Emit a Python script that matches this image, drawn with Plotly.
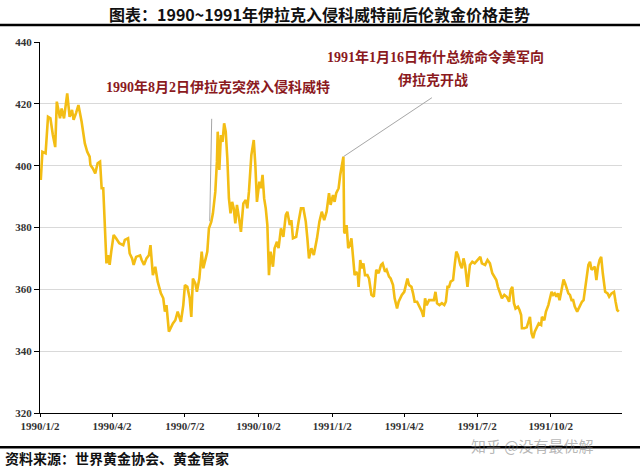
import plotly.graph_objects as go

# ---- data: London gold price (USD/oz), 1990-1991 ----
dates = [
    "1990-01-02", "1990-01-03", "1990-01-05", "1990-01-09", "1990-01-12", "1990-01-15", "1990-01-18",
    "1990-01-21", "1990-01-23", "1990-01-27", "1990-01-29", "1990-02-01", "1990-02-05", "1990-02-08",
    "1990-02-11", "1990-02-13", "1990-02-16", "1990-02-19", "1990-02-23", "1990-02-27", "1990-03-02",
    "1990-03-05", "1990-03-06", "1990-03-09", "1990-03-12", "1990-03-15", "1990-03-18", "1990-03-20",
    "1990-03-22", "1990-03-24", "1990-03-26", "1990-03-28", "1990-03-30", "1990-04-01", "1990-04-04",
    "1990-04-07", "1990-04-11", "1990-04-16", "1990-04-18", "1990-04-22", "1990-04-24", "1990-04-27",
    "1990-04-29", "1990-05-02", "1990-05-07", "1990-05-09", "1990-05-12", "1990-05-15", "1990-05-18",
    "1990-05-20", "1990-05-23", "1990-05-26", "1990-05-29", "1990-06-02", "1990-06-05", "1990-06-07",
    "1990-06-09", "1990-06-12", "1990-06-14", "1990-06-17", "1990-06-20", "1990-06-23", "1990-06-27",
    "1990-06-30", "1990-07-02", "1990-07-05", "1990-07-08", "1990-07-10", "1990-07-12", "1990-07-15",
    "1990-07-17", "1990-07-20", "1990-07-23", "1990-07-25", "1990-07-28", "1990-07-30", "1990-08-01",
    "1990-08-04", "1990-08-06", "1990-08-09", "1990-08-11", "1990-08-12", "1990-08-14", "1990-08-16",
    "1990-08-18", "1990-08-20", "1990-08-22", "1990-08-24", "1990-08-26", "1990-08-28", "1990-08-30",
    "1990-09-01", "1990-09-03", "1990-09-05", "1990-09-07", "1990-09-10", "1990-09-13", "1990-09-16",
    "1990-09-18", "1990-09-20", "1990-09-23", "1990-09-26", "1990-09-28", "1990-09-30", "1990-10-03",
    "1990-10-05", "1990-10-07", "1990-10-09", "1990-10-11", "1990-10-13", "1990-10-15", "1990-10-17",
    "1990-10-20", "1990-10-22", "1990-10-25", "1990-10-27", "1990-10-30", "1990-11-02", "1990-11-05",
    "1990-11-07", "1990-11-10", "1990-11-12", "1990-11-14", "1990-11-18", "1990-11-21", "1990-11-24",
    "1990-11-27", "1990-11-30", "1990-12-02", "1990-12-04", "1990-12-07", "1990-12-10", "1990-12-14",
    "1990-12-17", "1990-12-20", "1990-12-23", "1990-12-26", "1990-12-29", "1990-12-31", "1991-01-03",
    "1991-01-05", "1991-01-07", "1991-01-10", "1991-01-12", "1991-01-16", "1991-01-17", "1991-01-18",
    "1991-01-20", "1991-01-22", "1991-01-24", "1991-01-26", "1991-01-28", "1991-01-30", "1991-02-01",
    "1991-02-03", "1991-02-04", "1991-02-06", "1991-02-08", "1991-02-10", "1991-02-12", "1991-02-15",
    "1991-02-17", "1991-02-20", "1991-02-23", "1991-02-26", "1991-03-01", "1991-03-04", "1991-03-06",
    "1991-03-09", "1991-03-11", "1991-03-14", "1991-03-16", "1991-03-19", "1991-03-21", "1991-03-24",
    "1991-03-26", "1991-03-30", "1991-04-02", "1991-04-04", "1991-04-06", "1991-04-08", "1991-04-11",
    "1991-04-13", "1991-04-15", "1991-04-18", "1991-04-21", "1991-04-24", "1991-04-26", "1991-04-28",
    "1991-04-30", "1991-05-03", "1991-05-06", "1991-05-09", "1991-05-11", "1991-05-13", "1991-05-16",
    "1991-05-19", "1991-05-22", "1991-05-24", "1991-05-26", "1991-05-28", "1991-05-30", "1991-06-02",
    "1991-06-04", "1991-06-06", "1991-06-08", "1991-06-11", "1991-06-13", "1991-06-15", "1991-06-17",
    "1991-06-20", "1991-06-23", "1991-06-26", "1991-06-29", "1991-07-03", "1991-07-06", "1991-07-08",
    "1991-07-12", "1991-07-15", "1991-07-18", "1991-07-21", "1991-07-23", "1991-07-26", "1991-07-28",
    "1991-07-31", "1991-08-02", "1991-08-05", "1991-08-08", "1991-08-11", "1991-08-13", "1991-08-15",
    "1991-08-17", "1991-08-19", "1991-08-22", "1991-08-24", "1991-08-26", "1991-08-27", "1991-08-30",
    "1991-09-02", "1991-09-04", "1991-09-06", "1991-09-08", "1991-09-10", "1991-09-12", "1991-09-14",
    "1991-09-17", "1991-09-20", "1991-09-21", "1991-09-24", "1991-09-26", "1991-09-29", "1991-10-01",
    "1991-10-03", "1991-10-05", "1991-10-07", "1991-10-09", "1991-10-11", "1991-10-13", "1991-10-16",
    "1991-10-18", "1991-10-20", "1991-10-22", "1991-10-24", "1991-10-26", "1991-10-28", "1991-10-30",
    "1991-11-01", "1991-11-04", "1991-11-07", "1991-11-10", "1991-11-12", "1991-11-14", "1991-11-16",
    "1991-11-18", "1991-11-20", "1991-11-22", "1991-11-24", "1991-11-26", "1991-11-28", "1991-11-30",
    "1991-12-02", "1991-12-04", "1991-12-06", "1991-12-09", "1991-12-12", "1991-12-14", "1991-12-17",
    "1991-12-20", "1991-12-22", "1991-12-24", "1991-12-26",
]

gold_price = [
    399, 395.4, 404.5, 404, 415.8, 415.3, 410,
    406, 420.7, 415.3, 418.5, 415.3, 423.4, 415.8,
    418, 414.8, 417, 419.6, 414.2, 407.2, 404.5,
    402.9, 400.2, 399.1, 397.5, 400.8, 401.3, 392.7,
    392.7, 378.6, 368.4, 371, 367.9, 372.2, 377.6,
    376.5, 374.9, 374.3, 376, 376.5, 371.6, 370,
    367.9, 370.5, 371, 369.5, 367.9, 370, 371,
    374.3, 364.6, 367.3, 362.5, 358.7, 357.1, 352.8,
    354.9, 346.3, 347.4, 349, 350, 352.8, 349.5,
    354.9, 361.4, 360.8, 357.1, 351.1, 363.5, 361.9,
    359.2, 363.5, 372.2, 366.8, 370, 372.2, 379.7,
    381.9, 384.6, 391.6, 401.3, 411, 398.6, 409.9,
    407.7, 413.7, 411, 402.4, 389.4, 384.6, 388.3,
    386.2, 381.3, 387.3, 384, 378.6, 387.8, 388.9,
    386.2, 391.6, 403.4, 408.3, 400.2, 388.3, 394.8,
    392.7, 397, 389.4, 386.2, 380.8, 364.6, 372.2,
    367.3, 373.3, 375.4, 373.3, 379.7, 377, 384,
    385.1, 380.8, 382.4, 376.5, 377, 381.9, 386.2,
    386.2, 381.9, 376.5, 370, 373.3, 371.1, 376.5,
    381.9, 385.1, 382.4, 385.1, 391.1, 387.3, 390.5,
    388.3, 391.1, 392.7, 397, 402.9, 378.6, 378.1,
    380.8, 373.3, 374.3, 376.5, 370, 364.6, 365.7,
    364.6, 360.8, 369.5, 366.8, 368.4, 364.6, 364.6,
    363.5, 358.2, 357.6, 366.3, 365.2, 367.9, 368.4,
    365.7, 366.3, 364.1, 363.5, 361.4, 357.1, 353.8,
    356, 358.2, 359.2, 361.4, 363.5, 361.4, 360.8,
    358.7, 356, 356, 354.4, 352.8, 351.1, 357.1,
    354.9, 356.5, 356.5, 356.5, 359.2, 355.5, 354.9,
    355.5, 354.9, 356, 360.8, 360.8, 362.5, 363,
    367.9, 372.2, 371.1, 367.9, 366.8, 370, 367.9,
    360.8, 367.9, 368.9, 368.4, 369.5, 370.5, 368.4,
    367.9, 369.5, 368.4, 365.2, 364.1, 363, 360.8,
    358.2, 357.1, 358.2, 357.6, 356, 359.8, 360.8,
    355.5, 353.8, 354.4, 353.3, 351.7, 347.4, 347.4,
    347.7, 349.5, 351.1, 345.8, 344.2, 346.3, 347.4,
    349, 348.5, 351.1, 350, 352.8, 354.9, 357.1,
    359.2, 358.2, 358.7, 357.6, 358.7, 356.5, 360.8,
    363.2, 361.9, 360.3, 358.7, 358.2, 356.5, 356.5,
    354.4, 352.8, 354.4, 356, 356.5, 359.8, 364.1,
    367.9, 368.9, 366.3, 366.8, 367.3, 363, 367.3,
    369.5, 370.5, 365.2, 359.2, 358.7, 357.6, 358.7,
    359.2, 356, 353.3, 352.8,
]

tick_dates = ["1990-01-02", "1990-04-02", "1990-07-02", "1990-10-02",
              "1991-01-02", "1991-04-02", "1991-07-02", "1991-10-02"]
tick_labels = ["1990/1/2", "1990/4/2", "1990/7/2", "1990/10/2",
               "1991/1/2", "1991/4/2", "1991/7/2", "1991/10/2"]
y_ticks = [320, 340, 360, 380, 400, 420, 440]

title_text = "图表：1990~1991年伊拉克入侵科威特前后伦敦金价格走势"
source_text = "资料来源：世界黄金协会、黄金管家"
event1_text = "1990年8月2日伊拉克突然入侵科威特"
event1_date, event1_value = "1990-08-02", 382
event2_line1 = "1991年1月16日布什总统命令美军向"
event2_line2 = "伊拉克开战"
event2_date, event2_value = "1991-01-16", 402.9
watermark = "知乎 @没有最优解"

GOLD = "#F3BD14"
RED = "#8B1A1E"
CJK = "Liberation Serif, Noto Sans CJK SC"

fig = go.Figure()
fig.add_trace(go.Scatter(
    x=dates, y=gold_price, mode="lines",
    line=dict(color=GOLD, width=2.6), showlegend=False, hoverinfo="x+y",
))

fig.update_layout(
    width=640, height=470,
    margin=dict(l=40, r=18, t=42, b=57),
    paper_bgcolor="white", plot_bgcolor="white",
    xaxis=dict(
        type="date", range=["1990-01-02", "1991-12-30"],
        tickmode="array", tickvals=tick_dates, ticktext=tick_labels,
        showgrid=False, showline=True, linecolor="#000000", linewidth=1,
        ticks="outside", ticklen=3, tickcolor="#000000",
        tickfont=dict(family="Liberation Serif", size=11, color="#333333", weight="bold"),
        zeroline=False,
    ),
    yaxis=dict(
        range=[320, 440], tickmode="array", tickvals=y_ticks,
        showgrid=True, gridcolor="#D9D9D9", gridwidth=1,
        showline=True, linecolor="#000000", linewidth=1,
        ticks="outside", ticklen=5, tickcolor="#000000",
        tickfont=dict(family="Liberation Serif", size=11, color="#333333", weight="bold"),
        zeroline=False,
    ),
)

annotations = [
    dict(text=title_text, xref="paper", yref="paper", x=0.481, y=1.0755,
         showarrow=False, xanchor="center", yanchor="middle",
         font=dict(family="Noto Sans CJK SC", size=16, color="#111111", weight="bold")),
    dict(text=source_text, xref="paper", yref="paper", x=-0.064, y=-0.1213,
         showarrow=False, xanchor="left", yanchor="middle",
         font=dict(family="Noto Sans CJK SC", size=14, color="#111111", weight="bold")),
    dict(text=event1_text, xref="paper", yref="paper", x=0.306, y=0.879,
         showarrow=False, xanchor="center", yanchor="middle",
         font=dict(family=CJK, size=14, color=RED, weight="bold")),
    dict(text=event2_line1, xref="paper", yref="paper", x=0.679, y=0.9596,
         showarrow=False, xanchor="center", yanchor="middle",
         font=dict(family=CJK, size=14, color=RED, weight="bold")),
    dict(text=event2_line2, xref="paper", yref="paper", x=0.6753, y=0.8976,
         showarrow=False, xanchor="center", yanchor="middle",
         font=dict(family=CJK, size=14, color=RED, weight="bold")),
    dict(text="", x=event1_date, y=event1_value, xref="x", yref="y",
         showarrow=True, arrowhead=0, arrowwidth=1, arrowcolor="#A6A6A6",
         ax=2, ay=-104, standoff=0),
    dict(text="", x=event2_date, y=event2_value, xref="x", yref="y",
         showarrow=True, arrowhead=0, arrowwidth=1, arrowcolor="#A6A6A6",
         ax=90, ay=-60, standoff=0),
    dict(text=watermark, xref="paper", yref="paper", x=0.739, y=-0.087,
         showarrow=False, xanchor="left", yanchor="middle", borderpad=0,
         font=dict(family="Noto Sans CJK SC", size=15, color="rgba(120,120,120,0.55)")),
]
fig.update_layout(annotations=annotations)

shapes = [
    dict(type="line", xref="paper", yref="paper", x0=-40/582, x1=1+18/582,
         y0=1.0458, y1=1.0458, line=dict(color="#000000", width=2.5)),
    dict(type="line", xref="paper", yref="paper", x0=-40/582, x1=1+18/582,
         y0=-0.092, y1=-0.092, line=dict(color="#000000", width=2.5)),
]
fig.update_layout(shapes=shapes)

fig.write_html("out.html")
